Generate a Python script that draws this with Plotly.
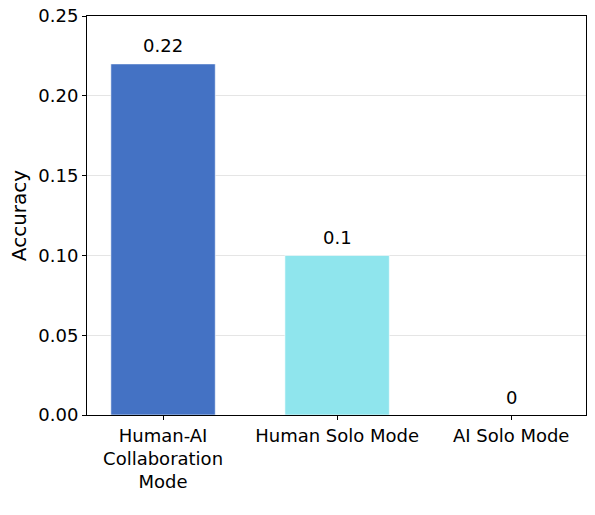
import plotly.graph_objects as go

modes = ["Human-AI<br>Collaboration<br>Mode", "Human Solo Mode", "AI Solo Mode"]
accuracy = [0.22, 0.1, 0.0]
labels = ["0.22", "0.1", "0"]
colors = ["#4472C4", "#8FE5ED", "#B0B0B0"]

fig = go.Figure()

fig.add_trace(
    go.Bar(
        x=modes,
        y=accuracy,
        marker=dict(color=colors, line=dict(color="rgba(255,255,255,0.6)", width=1)),
        width=0.6,
    )
)

# value labels a little above each bar
for mode, acc, lab in zip(modes, accuracy, labels):
    fig.add_annotation(
        x=mode, y=acc, text=lab, showarrow=False,
        yanchor="middle", yshift=18, font=dict(size=18, color="black"),
    )

fig.update_layout(
    width=595,
    height=515,
    margin=dict(l=87, r=9, t=16, b=100),
    plot_bgcolor="white",
    paper_bgcolor="white",
    font=dict(family="DejaVu Sans", size=18, color="black"),
    showlegend=False,
    xaxis=dict(
        range=[-0.437, 2.43],
        automargin=False,
        showline=True,
        linecolor="black",
        linewidth=1,
        mirror=True,
        ticks="outside",
        ticklen=4,
        tickcolor="black",
    ),
    yaxis=dict(
        title=dict(text="Accuracy", font=dict(size=20), standoff=6),
        range=[0, 0.25],
        dtick=0.05,
        tickformat=".2f",
        ticklabeloverflow="allow",
        automargin=False,
        showline=True,
        linecolor="black",
        linewidth=1,
        mirror=True,
        ticks="outside",
        ticklen=4,
        tickcolor="black",
        showgrid=True,
        gridcolor="#E5E5E5",
        zeroline=False,
    ),
)

# drop the default page margin so the figure sits at the window corner
fig.write_html(
    "out.html",
    config={"displayModeBar": False},
    post_script="document.body.style.margin='0';",
)
